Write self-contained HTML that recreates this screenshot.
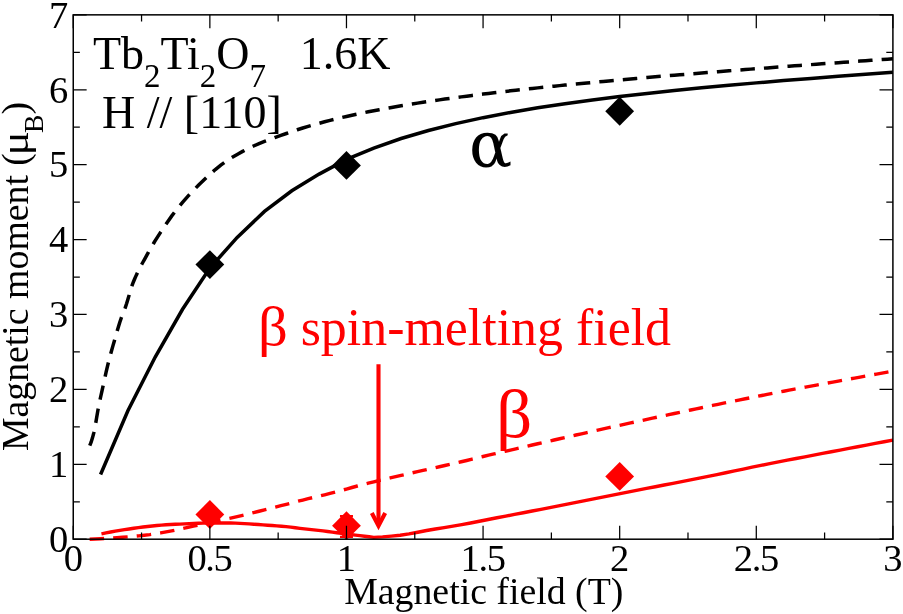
<!DOCTYPE html>
<html><head><meta charset="utf-8"><title>Tb2Ti2O7 magnetization</title>
<style>
html,body{margin:0;padding:0;background:#fff;width:903px;height:614px;overflow:hidden}
svg{display:block}
text{font-family:"Liberation Serif","DejaVu Serif",serif}
</style></head><body>
<svg width="903" height="614" viewBox="0 0 903 614">
<rect width="903" height="614" fill="#fff"/>
<g fill="none" stroke-linejoin="miter">
<path d="M89.75,445.64 L91.12,442.26 L92.48,437.83 L93.85,432.63 L95.22,426.13 L96.58,418.05 L97.95,410.07 L99.31,403.20 L100.68,396.75 L102.05,390.51 L103.41,384.32 L104.78,378.10 L106.15,371.97 L107.51,366.07 L108.88,360.55 L110.24,355.37 L111.61,350.43 L112.98,345.64 L114.34,340.90 L115.71,336.13 L117.07,331.34 L118.44,326.67 L119.81,322.25 L121.17,318.23 L122.54,314.64 L123.90,311.21 L125.27,307.62 L126.64,303.57 L128.00,299.05 L129.37,294.32 L130.73,289.68 L132.10,285.41 L133.47,281.76 L134.83,278.48 L136.20,275.40 L137.57,272.50 L138.93,269.74 L140.30,267.09 L141.66,264.53 L143.03,262.03 L144.40,259.56 L145.76,257.09 L147.13,254.60 L148.49,252.14 L149.86,249.72 L151.23,247.35 L152.59,245.03 L153.96,242.75 L155.21,240.69 L160.68,232.09 L166.14,223.88 L171.61,216.14 L177.07,209.00 L182.54,202.38 L188.00,196.14 L193.47,190.26 L198.93,184.72 L204.39,179.45 L209.86,174.35 L215.32,169.52 L220.79,165.08 L226.25,161.14 L231.72,157.64 L237.18,154.40 L242.64,151.39 L248.11,148.61 L253.57,146.01 L259.04,143.58 L264.50,141.37 L269.97,139.38 L275.43,137.42 L280.89,135.46 L286.36,133.50 L291.82,131.61 L297.29,129.78 L302.75,128.04 L308.22,126.38 L313.68,124.80 L319.15,123.28 L324.61,121.81 L330.07,120.40 L335.54,119.04 L341.00,117.73 L346.47,116.46 L351.93,115.24 L357.40,114.06 L362.86,112.91 L368.32,111.80 L373.79,110.73 L379.25,109.69 L384.72,108.67 L390.18,107.69 L395.65,106.73 L401.11,105.79 L406.57,104.88 L412.04,104.00 L417.50,103.13 L422.97,102.28 L428.43,101.46 L433.90,100.65 L439.36,99.86 L444.82,99.09 L450.29,98.33 L455.75,97.59 L461.22,96.86 L466.68,96.15 L472.15,95.45 L477.61,94.76 L483.08,94.08 L488.54,93.42 L494.00,92.76 L499.47,92.12 L504.93,91.49 L510.40,90.86 L515.86,90.25 L521.33,89.64 L526.79,89.05 L532.25,88.46 L537.72,87.88 L543.18,87.30 L548.65,86.74 L554.11,86.18 L559.58,85.63 L565.04,85.08 L570.50,84.54 L575.97,84.01 L581.43,83.48 L586.90,82.96 L592.36,82.44 L597.83,81.93 L603.29,81.42 L608.75,80.92 L614.22,80.42 L619.68,79.93 L625.15,79.44 L630.61,78.96 L636.08,78.47 L641.54,78.00 L647.01,77.53 L652.47,77.06 L657.93,76.59 L663.40,76.13 L668.86,75.67 L674.33,75.21 L679.79,74.76 L685.26,74.31 L690.72,73.87 L696.18,73.42 L701.65,72.98 L707.11,72.54 L712.58,72.11 L718.04,71.67 L723.51,71.24 L728.97,70.81 L734.43,70.39 L739.90,69.96 L745.36,69.54 L750.83,69.12 L756.29,68.71 L761.76,68.29 L767.22,67.88 L772.68,67.47 L778.15,67.06 L783.61,66.65 L789.08,66.24 L794.54,65.84 L800.01,65.43 L805.47,65.03 L810.94,64.63 L816.40,64.23 L821.86,63.84 L827.33,63.44 L832.79,63.05 L838.26,62.66 L843.72,62.26 L849.19,61.87 L854.65,61.49 L860.11,61.10 L865.58,60.71 L871.04,60.33 L876.51,59.94 L881.97,59.56 L887.44,59.18 L892.90,58.80" stroke="#000" stroke-width="3.5" stroke-dasharray="14.5 9.1"/>
<path d="M100.57,474.54 L127.89,410.74 L155.21,357.01 L182.54,309.27 L209.86,268.04 L237.18,237.43 L264.50,211.43 L291.82,190.81 L319.14,174.12 L346.47,159.43 L373.79,148.03 L401.11,138.52 L428.43,130.48 L455.75,123.61 L483.07,117.66 L510.40,112.45 L537.72,107.83 L565.04,103.70 L592.36,99.97 L619.68,96.57 L647.00,93.44 L674.33,90.54 L701.65,87.83 L728.97,85.28 L756.29,82.88 L783.61,80.59 L810.93,78.41 L838.26,76.31 L865.58,74.30 L892.90,72.35" stroke="#000" stroke-width="3.5"/>
<path d="M89.64,539.20 L95.11,539.00 L100.57,538.74 L106.04,538.42 L111.50,538.06 L116.96,537.67 L122.43,537.26 L127.89,536.83 L133.36,536.37 L138.82,535.86 L144.29,535.27 L149.75,534.58 L155.22,533.76 L160.68,532.86 L166.14,531.90 L171.61,530.89 L177.07,529.76 L182.54,528.57 L188.00,527.37 L193.47,526.20 L198.93,525.04 L204.39,523.88 L209.86,522.72 L215.32,521.55 L220.79,520.36 L226.25,519.16 L231.72,517.93 L237.18,516.66 L242.64,515.35 L248.11,514.00 L253.57,512.62 L259.04,511.23 L264.50,509.86 L269.97,508.48 L275.43,507.09 L280.89,505.69 L286.36,504.28 L291.82,502.86 L297.29,501.43 L302.75,500.03 L308.22,498.68 L313.68,497.39 L319.14,496.12 L324.61,494.82 L330.07,493.46 L335.54,492.03 L341.00,490.53 L346.47,489.02 L351.93,487.49 L357.40,486.00 L362.86,484.55 L368.32,483.17 L373.79,481.82 L379.25,480.50 L384.72,479.19 L390.18,477.90 L395.65,476.63 L401.11,475.38 L406.57,474.13 L412.04,472.90 L417.50,471.67 L422.97,470.44 L428.43,469.22 L433.90,467.99 L439.36,466.76 L444.82,465.52 L450.29,464.28 L455.75,463.02 L461.22,461.75 L466.68,460.47 L472.15,459.16 L477.61,457.84 L483.08,456.52 L488.54,455.22 L494.00,453.93 L499.47,452.65 L504.93,451.37 L510.40,450.10 L515.86,448.83 L521.33,447.55 L526.79,446.29 L532.25,445.02 L537.72,443.76 L543.18,442.50 L548.65,441.25 L554.11,440.00 L559.58,438.75 L565.04,437.51 L570.50,436.27 L575.97,435.03 L581.43,433.80 L586.90,432.57 L592.36,431.35 L597.83,430.13 L603.29,428.92 L608.75,427.71 L614.22,426.50 L619.68,425.30 L625.15,424.11 L630.61,422.92 L636.08,421.73 L641.54,420.55 L647.01,419.37 L652.47,418.19 L657.93,417.01 L663.40,415.84 L668.86,414.67 L674.33,413.50 L679.79,412.34 L685.26,411.18 L690.72,410.03 L696.18,408.88 L701.65,407.73 L707.11,406.59 L712.58,405.45 L718.04,404.32 L723.51,403.19 L728.97,402.07 L734.43,400.96 L739.90,399.85 L745.36,398.75 L750.83,397.65 L756.29,396.56 L761.76,395.47 L767.22,394.39 L772.68,393.32 L778.15,392.26 L783.61,391.21 L789.08,390.17 L794.54,389.14 L800.01,388.12 L805.47,387.10 L810.94,386.09 L816.40,385.09 L821.86,384.09 L827.33,383.09 L832.79,382.09 L838.26,381.10 L843.72,380.10 L849.19,379.10 L854.65,378.10 L860.11,377.10 L865.58,376.10 L871.04,375.11 L876.51,374.11 L881.97,373.10 L887.44,372.08 L892.90,371.03" stroke="#f00" stroke-width="3.4" stroke-dasharray="14.5 9.1"/>
<path d="M101.45,533.81 L106.06,532.88 L110.68,532.00 L115.29,531.19 L119.91,530.41 L124.53,529.67 L129.14,528.97 L133.76,528.29 L138.37,527.62 L142.99,526.99 L147.61,526.45 L152.22,525.97 L156.84,525.53 L161.45,525.15 L166.07,524.82 L170.69,524.55 L175.30,524.30 L179.92,524.09 L184.53,523.89 L189.15,523.70 L193.77,523.49 L198.38,523.29 L203.00,523.13 L207.61,523.03 L212.23,523.02 L216.85,523.02 L221.46,523.02 L226.08,523.02 L230.69,523.02 L235.31,523.13 L239.93,523.36 L244.54,523.64 L249.16,523.90 L253.77,524.19 L258.39,524.51 L263.00,524.85 L267.62,525.19 L272.24,525.52 L276.85,525.85 L281.47,526.22 L286.08,526.65 L290.70,527.17 L295.32,527.76 L299.93,528.33 L304.55,528.86 L309.16,529.37 L313.78,529.88 L318.40,530.39 L323.01,530.93 L327.63,531.49 L332.24,532.08 L336.86,532.70 L341.48,533.31 L346.09,533.91 L350.71,534.49 L355.32,535.07 L359.94,535.64 L364.56,536.21 L369.17,536.77 L373.79,537.33 L382.59,536.85 L391.39,536.10 L400.18,535.19 L408.98,533.91 L417.78,532.24 L426.58,530.52 L435.38,529.00 L444.18,527.57 L452.97,526.12 L461.77,524.60 L470.57,522.96 L479.37,521.26 L488.17,519.52 L496.97,517.79 L505.77,516.09 L514.56,514.40 L523.36,512.71 L532.16,511.01 L540.96,509.32 L549.76,507.61 L558.56,505.90 L567.36,504.17 L576.15,502.43 L584.95,500.67 L593.75,498.92 L602.55,497.16 L611.35,495.39 L620.15,493.64 L628.94,491.89 L637.74,490.14 L646.54,488.42 L655.34,486.71 L664.14,485.01 L672.94,483.31 L681.74,481.60 L690.53,479.88 L699.33,478.13 L708.13,476.35 L716.93,474.55 L725.73,472.72 L734.53,470.88 L743.33,469.04 L752.12,467.21 L760.92,465.41 L769.72,463.64 L778.52,461.90 L787.32,460.18 L796.12,458.48 L804.91,456.80 L813.71,455.12 L822.51,453.45 L831.31,451.77 L840.11,450.09 L848.91,448.42 L857.71,446.76 L866.50,445.09 L875.30,443.44 L884.10,441.78 L892.90,440.14" stroke="#f00" stroke-width="3.4"/>
</g>
<path d="M209.86,250.19 L224.26,264.59 L209.86,278.99 L195.46,264.59 Z" fill="#000"/><path d="M346.47,151.01 L360.87,165.41 L346.47,179.81 L332.07,165.41 Z" fill="#000"/><path d="M619.68,96.86 L634.08,111.26 L619.68,125.66 L605.28,111.26 Z" fill="#000"/>
<path d="M209.86,500.08 L224.26,514.48 L209.86,528.88 L195.46,514.48 Z" fill="#f00"/><path d="M346.47,511.32 L360.87,525.72 L346.47,540.12 L332.07,525.72 Z" fill="#f00"/><path d="M619.68,462.03 L634.08,476.43 L619.68,490.83 L605.28,476.43 Z" fill="#f00"/>
<path d="M339.97,516.12 H352.97 M339.97,536.92 H352.97" stroke="#f00" stroke-width="2.4"/>
<g stroke="#f00" fill="none" stroke-width="4.1">
<path d="M378.5,364.2 V524"/>
<path d="M371.8,513.0 L378.5,525.8 L385.2,513.0" stroke-linejoin="miter" stroke-miterlimit="10"/>
</g>
<path d="M73.25,539.2 V525.8000000000001 M73.25,14.85 V28.25 M141.55,539.2 V532.6 M141.55,14.85 V21.45 M209.86,539.2 V525.8000000000001 M209.86,14.85 V28.25 M278.16,539.2 V532.6 M278.16,14.85 V21.45 M346.47,539.2 V525.8000000000001 M346.47,14.85 V28.25 M414.77,539.2 V532.6 M414.77,14.85 V21.45 M483.07,539.2 V525.8000000000001 M483.07,14.85 V28.25 M551.38,539.2 V532.6 M551.38,14.85 V21.45 M619.68,539.2 V525.8000000000001 M619.68,14.85 V28.25 M687.99,539.2 V532.6 M687.99,14.85 V21.45 M756.29,539.2 V525.8000000000001 M756.29,14.85 V28.25 M824.60,539.2 V532.6 M824.60,14.85 V21.45 M892.90,539.2 V525.8000000000001 M892.90,14.85 V28.25 M73.25,539.20 H86.65 M892.9,539.20 H879.5 M73.25,501.75 H79.85 M892.9,501.75 H886.3 M73.25,464.29 H86.65 M892.9,464.29 H879.5 M73.25,426.84 H79.85 M892.9,426.84 H886.3 M73.25,389.39 H86.65 M892.9,389.39 H879.5 M73.25,351.93 H79.85 M892.9,351.93 H886.3 M73.25,314.48 H86.65 M892.9,314.48 H879.5 M73.25,277.03 H79.85 M892.9,277.03 H886.3 M73.25,239.57 H86.65 M892.9,239.57 H879.5 M73.25,202.12 H79.85 M892.9,202.12 H886.3 M73.25,164.66 H86.65 M892.9,164.66 H879.5 M73.25,127.21 H79.85 M892.9,127.21 H886.3 M73.25,89.76 H86.65 M892.9,89.76 H879.5 M73.25,52.30 H79.85 M892.9,52.30 H886.3 M73.25,14.85 H86.65 M892.9,14.85 H879.5" stroke="#000" stroke-width="1.25" fill="none"/>
<rect x="73.25" y="14.85" width="819.65" height="524.35" fill="none" stroke="#000" stroke-width="1.5"/>
<g font-size="38.5" fill="#000"><text x="73.25" y="571.4" text-anchor="middle">0</text><text x="209.36" y="571.4" text-anchor="middle" letter-spacing="-1.4">0.5</text><text x="346.47" y="571.4" text-anchor="middle">1</text><text x="482.57" y="571.4" text-anchor="middle" letter-spacing="-1.4">1.5</text><text x="619.68" y="571.4" text-anchor="middle">2</text><text x="755.79" y="571.4" text-anchor="middle" letter-spacing="-1.4">2.5</text><text x="892.90" y="571.4" text-anchor="middle">3</text><text x="68.3" y="552.00" text-anchor="end">0</text><text x="68.3" y="477.09" text-anchor="end">1</text><text x="68.3" y="402.19" text-anchor="end">2</text><text x="68.3" y="327.28" text-anchor="end">3</text><text x="68.3" y="252.37" text-anchor="end">4</text><text x="68.3" y="177.46" text-anchor="end">5</text><text x="68.3" y="102.56" text-anchor="end">6</text><text x="68.3" y="27.65" text-anchor="end">7</text></g>
<text x="344.2" y="603.7" font-size="37.8">Magnetic field (T)</text>
<g font-size="37.8"><text transform="translate(27.7,451.09) rotate(-90)">Magnetic moment</text><text transform="translate(27.7,165.66) rotate(-90)">(</text><text transform="translate(27.7,155.4) rotate(-90) scale(1.2,1)">μ</text><text transform="translate(43,132.9) rotate(-90)" font-size="27.7">B</text><text transform="translate(27.7,114.4) rotate(-90)">)</text></g>
<g font-size="46">
<text x="92.9" y="69.0">Tb<tspan font-size="33" dy="18.3">2</tspan><tspan dy="-18.3">Ti</tspan><tspan font-size="33" dy="18.3">2</tspan><tspan dy="-18.3">O</tspan><tspan font-size="33" dy="18.3">7</tspan></text>
<text x="299.8" y="69.0">1.6K</text>
<text x="102.1" y="127.5">H // [110]</text>
</g>
<text x="469" y="166.5" font-size="64" style="font-family:'DejaVu Serif',serif">α</text>
<text transform="translate(258.0,345.3) scale(1.05,1)" font-size="55.9" fill="#f00">β</text><text x="300.67" y="344.7" font-size="51.9" fill="#f00">spin-melting field</text>
<text transform="translate(495.9,436.7) scale(1.053,1)" font-size="67.8" fill="#f00">β</text>
</svg>
</body></html>
